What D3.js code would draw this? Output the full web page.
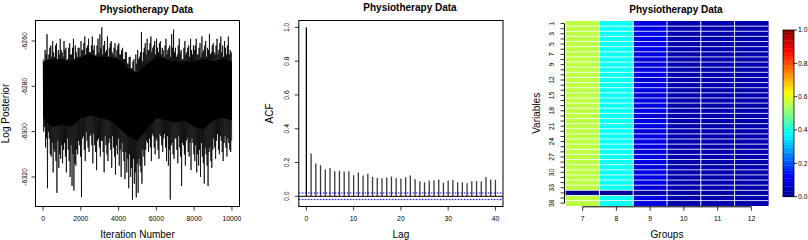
<!DOCTYPE html>
<html><head><meta charset="utf-8">
<script src="https://cdn.jsdelivr.net/npm/d3@7"></script>
<style>
body{margin:0;background:#fff}
svg{display:block}
text{font-family:"Liberation Sans",Arial,Helvetica,sans-serif;fill:#000}
</style>
</head><body>
<svg id="c" width="808" height="240"></svg>
<script>
// ---------------- DATA ----------------
const chartTitle = "Physiotherapy Data";

// Trace plot (log posterior): extremes read per 100 iterations
const traceBinSize = 100;
const traceSpikeTop = [
 -6268,-6264,-6257,-6266,-6262,-6260,-6267,-6261,-6264,-6259,
 -6265,-6260,-6263,-6268,-6261,-6266,-6259,-6262,-6267,-6263,
 -6260,-6264,-6258,-6263,-6259,-6265,-6258,-6262,-6266,-6259,
 -6257,-6254,-6262,-6265,-6258,-6263,-6260,-6266,-6261,-6264,
 -6261,-6266,-6263,-6268,-6265,-6270,-6267,-6272,-6268,-6266,
 -6264,-6267,-6256,-6265,-6261,-6259,-6264,-6258,-6263,-6260,
 -6259,-6265,-6260,-6263,-6267,-6259,-6264,-6262,-6257,-6255,
 -6263,-6266,-6259,-6264,-6268,-6260,-6265,-6262,-6259,-6266,
 -6264,-6259,-6266,-6261,-6258,-6264,-6260,-6263,-6257,-6265,
 -6261,-6266,-6259,-6264,-6258,-6262,-6260,-6266,-6258,-6264
];
const traceSpikeBottom = [
 -6300,-6307,-6325,-6303,-6311,-6318,-6309,-6327,-6316,-6312,
 -6314,-6305,-6318,-6308,-6320,-6324,-6326,-6315,-6310,-6306,
 -6329,-6302,-6313,-6304,-6309,-6301,-6314,-6306,-6317,-6303,
 -6311,-6304,-6318,-6306,-6313,-6303,-6316,-6307,-6319,-6310,
 -6315,-6320,-6309,-6321,-6318,-6325,-6320,-6330,-6323,-6329,
 -6327,-6315,-6323,-6311,-6308,-6305,-6303,-6313,-6302,-6310,
 -6304,-6312,-6302,-6309,-6301,-6313,-6315,-6330,-6305,-6312,
 -6303,-6314,-6307,-6324,-6306,-6315,-6303,-6311,-6317,-6305,
 -6313,-6318,-6315,-6320,-6311,-6323,-6310,-6324,-6307,-6316,
 -6303,-6312,-6301,-6310,-6304,-6313,-6302,-6311,-6305,-6309
];
// secondary (smaller) excursions in each 100-iteration bin
const traceSubTop = [
 -6270,-6266,-6268,-6263,-6267,-6265,-6262,-6268,-6266,-6264,
 -6267,-6264,-6269,-6263,-6266,-6263,-6268,-6265,-6263,-6267,
 -6264,-6261,-6266,-6262,-6265,-6262,-6264,-6267,-6262,-6265,
 -6263,-6266,-6260,-6264,-6267,-6261,-6265,-6263,-6267,-6262,
 -6266,-6264,-6268,-6265,-6270,-6267,-6272,-6269,-6274,-6270,
 -6268,-6265,-6269,-6263,-6266,-6264,-6261,-6265,-6262,-6266,
 -6263,-6261,-6266,-6264,-6262,-6266,-6263,-6267,-6263,-6265,
 -6267,-6262,-6265,-6268,-6263,-6266,-6263,-6267,-6264,-6262,
 -6262,-6266,-6263,-6267,-6265,-6262,-6267,-6264,-6266,-6262,
 -6265,-6262,-6266,-6261,-6265,-6267,-6263,-6262,-6266,-6265
];
const traceSubBottom = [
 -6298,-6303,-6300,-6310,-6305,-6308,-6313,-6304,-6310,-6306,
 -6308,-6311,-6303,-6313,-6306,-6310,-6314,-6308,-6304,-6311,
 -6303,-6308,-6300,-6307,-6302,-6306,-6301,-6309,-6304,-6307,
 -6304,-6309,-6302,-6310,-6305,-6308,-6302,-6311,-6306,-6303,
 -6308,-6305,-6313,-6309,-6312,-6310,-6316,-6312,-6318,-6314,
 -6312,-6318,-6308,-6315,-6304,-6309,-6307,-6301,-6307,-6303,
 -6308,-6301,-6306,-6303,-6307,-6302,-6308,-6306,-6310,-6303,
 -6308,-6302,-6311,-6305,-6310,-6304,-6309,-6305,-6303,-6310,
 -6306,-6310,-6308,-6305,-6314,-6307,-6315,-6309,-6313,-6308,
 -6307,-6304,-6308,-6302,-6309,-6305,-6307,-6303,-6308,-6304
];
// dense core of the trace, every 500 iterations
const coreIter   = [0,500,1000,1500,2000,2500,3000,3500,4000,4500,5000,5500,6000,6500,7000,7500,8000,8500,9000,9500,10000];
const coreTop    = [-6269,-6268,-6268,-6269,-6267,-6266,-6267,-6267,-6268,-6272,-6274,-6270,-6267,-6268,-6269,-6269,-6269,-6268,-6269,-6268,-6269];
const coreBottom = [-6294,-6298,-6297,-6298,-6294,-6293,-6294,-6295,-6298,-6302,-6304,-6299,-6294,-6295,-6296,-6295,-6298,-6299,-6295,-6294,-6295];
const traceXTicks = [0,2000,4000,6000,8000,10000];
const traceYTicks = [-6260,-6280,-6300,-6320];
const traceIterMax = 10000;

// ACF
const acfValues = [1.0,0.253,0.194,0.184,0.158,0.168,0.149,0.151,0.145,0.149,
 0.125,0.141,0.123,0.133,0.115,0.109,0.107,0.111,0.117,0.107,
 0.105,0.113,0.123,0.101,0.089,0.083,0.093,0.095,0.099,0.081,
 0.093,0.097,0.083,0.083,0.077,0.089,0.091,0.087,0.114,0.099,0.097];
const acfCI = 0.0196;
const acfXTicks = [0,10,20,30,40];
const acfYTicks = [0,0.2,0.4,0.6,0.8,1.0];

// Heatmap: posterior probabilities, groups 7..12 (columns) x variables 1..36 (rows)
const heatGroups = [7,8,9,10,11,12];
const heatVariables = [1,2,3,4,5,6,7,8,9,10,11,12,13,14,15,16,17,18,19,20,21,22,23,24,25,26,27,28,29,30,31,32,33,34,35,36];
const heatG7  = [0.56,0.56,0.56,0.56,0.56,0.56,0.56,0.56,0.56,0.56,0.56,0.56,0.56,0.56,0.56,0.56,0.56,0.56,0.56,0.56,0.56,0.56,0.56,0.56,0.56,0.56,0.56,0.56,0.56,0.56,0.56,0.56,0.56,0.00,0.56,0.56];
const heatG8  = [0.385,0.385,0.385,0.385,0.385,0.385,0.385,0.385,0.385,0.385,0.385,0.385,0.385,0.385,0.385,0.385,0.385,0.385,0.385,0.385,0.385,0.385,0.385,0.385,0.385,0.385,0.385,0.385,0.385,0.385,0.385,0.385,0.385,0.01,0.385,0.385];
const heatG9  = [0.09,0.09,0.10,0.09,0.09,0.10,0.09,0.08,0.09,0.09,0.09,0.08,0.09,0.09,0.08,0.09,0.09,0.09,0.08,0.09,0.09,0.08,0.09,0.09,0.09,0.08,0.09,0.09,0.08,0.09,0.09,0.09,0.08,0.02,0.09,0.09];
const heatG10 = [0.035,0.035,0.035,0.035,0.035,0.035,0.035,0.035,0.035,0.035,0.035,0.035,0.035,0.035,0.035,0.035,0.035,0.035,0.035,0.035,0.035,0.035,0.035,0.035,0.035,0.035,0.035,0.035,0.035,0.035,0.035,0.035,0.035,0.02,0.035,0.035];
const heatG11 = [0.035,0.035,0.035,0.035,0.035,0.035,0.035,0.035,0.035,0.035,0.035,0.035,0.035,0.035,0.035,0.035,0.035,0.035,0.035,0.035,0.035,0.035,0.035,0.035,0.035,0.035,0.035,0.035,0.035,0.035,0.035,0.035,0.035,0.02,0.035,0.035];
const heatG12 = [0.035,0.035,0.035,0.035,0.035,0.035,0.035,0.035,0.035,0.035,0.035,0.035,0.035,0.035,0.035,0.035,0.035,0.035,0.035,0.035,0.035,0.035,0.035,0.035,0.035,0.035,0.035,0.035,0.035,0.035,0.035,0.035,0.035,0.02,0.035,0.035];
const heatYTickLabels = [1,3,5,7,9,12,15,18,21,24,27,30,33,36];
const colorbarTicks = [0,0.2,0.4,0.6,0.8,1.0];

// ---------------- DRAW ----------------
const svg = d3.select("#c");
const FONT_TICK = 6.8, FONT_LAB = 10;
const fmt1 = d3.format(".1f");

function boxedPanel(g, L, R, T, B) {
  g.append("rect").attr("x", L).attr("y", T).attr("width", R - L).attr("height", B - T)
   .attr("fill", "none").attr("stroke", "#000").attr("stroke-width", 1);
}
function xTicks(g, scale, vals, yAxis, fmt) {
  vals.forEach(v => {
    const x = scale(v);
    g.append("line").attr("x1", x).attr("x2", x).attr("y1", yAxis).attr("y2", yAxis + 4).attr("stroke", "#000").attr("stroke-width", 0.8);
    g.append("text").attr("x", x).attr("y", 220.6).attr("text-anchor", "middle").attr("font-size", FONT_TICK).text(fmt(v));
  });
}
function yTicks(g, scale, vals, xAxis, labX, fmt) {
  vals.forEach(v => {
    const y = scale(v);
    g.append("line").attr("x1", xAxis - 4).attr("x2", xAxis).attr("y1", y).attr("y2", y).attr("stroke", "#000").attr("stroke-width", 0.8);
    g.append("text").attr("transform", `translate(${labX},${y}) rotate(-90)`).attr("text-anchor", "middle").attr("font-size", FONT_TICK).text(fmt(v));
  });
}
function titles(g, cx, ty, xlab, xlabCx, ylab, ylabX, ylabCy) {
  g.append("text").attr("x", cx).attr("y", ty).attr("text-anchor", "middle").attr("font-size", 10).attr("font-weight", "bold").text(chartTitle);
  g.append("text").attr("x", xlabCx).attr("y", 237.6).attr("text-anchor", "middle").attr("font-size", FONT_LAB).text(xlab);
  g.append("text").attr("transform", `translate(${ylabX},${ylabCy}) rotate(-90)`).attr("text-anchor", "middle").attr("font-size", FONT_LAB).text(ylab);
}

// ---- Panel 1 : trace ----
{
  const g = svg.append("g");
  const L = 35.5, R = 239.5, T = 20.5, B = 206.5;
  const allVals = traceSpikeTop.concat(traceSpikeBottom);
  const ext = d3.extent(allVals), pad = (ext[1] - ext[0]) * 0.04;
  const x = d3.scaleLinear().domain([1 - (traceIterMax - 1) * 0.04, traceIterMax + (traceIterMax - 1) * 0.04]).range([L, R]);
  const y = d3.scaleLinear().domain([ext[0] - pad, ext[1] + pad]).range([B, T]);
  const core = coreIter.map((it, i) => ({it, top: coreTop[i], bot: coreBottom[i]}));
  g.append("path").datum(core)
   .attr("d", d3.area().x(d => x(d.it)).y0(d => y(d.bot)).y1(d => y(d.top)))
   .attr("fill", "#000");
  const pts = [];
  traceSpikeTop.forEach((v, i) => {
    const b = i * traceBinSize;
    pts.push([b + 10, v]);
    pts.push([b + 35, traceSpikeBottom[i]]);
    pts.push([b + 60, traceSubTop[i]]);
    pts.push([b + 85, traceSubBottom[i]]);
  });
  g.append("path").datum(pts)
   .attr("d", d3.line().x(d => x(d[0])).y(d => y(d[1])))
   .attr("fill", "none").attr("stroke", "#000").attr("stroke-width", 0.75);
  boxedPanel(g, L, R, T, B);
  xTicks(g, x, traceXTicks, B, d => String(d));
  yTicks(g, y, traceYTicks, L, 26.6, d => String(d));
  titles(g, 146.5, 12.7, "Iteration Number", (L + R) / 2, "Log Posterior", 9, (T + B) / 2);
}

// ---- Panel 2 : ACF ----
{
  const g = svg.append("g");
  const L = 298.8, R = 503, T = 20.5, B = 206.5;
  const n = acfValues.length - 1;
  const x = d3.scaleLinear().domain([-n * 0.04, n * 1.04]).range([L, R]);
  const lo = -acfCI, hi = d3.max(acfValues), pad = (hi - lo) * 0.04;
  const y = d3.scaleLinear().domain([lo - pad, hi + pad]).range([B, T]);
  g.selectAll(".bar").data(acfValues).enter().append("line")
   .attr("x1", (d, i) => x(i)).attr("x2", (d, i) => x(i))
   .attr("y1", y(0)).attr("y2", d => y(d))
   .attr("stroke", (d, i) => i === 0 ? "#000" : "#3a3a3a").attr("stroke-width", 1.3);
  g.append("line").attr("x1", L).attr("x2", R).attr("y1", y(0)).attr("y2", y(0)).attr("stroke", "#000").attr("stroke-width", 1);
  [acfCI, -acfCI].forEach(c => {
    g.append("line").attr("x1", L).attr("x2", R).attr("y1", y(c)).attr("y2", y(c))
     .attr("stroke", "#0000ff").attr("stroke-width", 1).attr("stroke-dasharray", "1.6,1.4");
  });
  boxedPanel(g, L, R, T, B);
  xTicks(g, x, acfXTicks, B, d => String(d));
  yTicks(g, y, acfYTicks, L, 289.4, d => fmt1(d));
  titles(g, 410, 10.6, "Lag", (L + R) / 2, "ACF", 273, (T + B) / 2);
}

// ---- Panel 3 : heatmap ----
{
  const g = svg.append("g");
  const L = 565.7, R = 768.3, T = 21, B = 205.7;
  const cols = [heatG7, heatG8, heatG9, heatG10, heatG11, heatG12];
  const jet = d3.scaleLinear()
    .domain([0, 0.125, 0.375, 0.625, 0.875, 1])
    .range(["#00008F", "#0000FF", "#00FFFF", "#FFFF00", "#FF0000", "#800000"])
    .interpolate(d3.interpolateRgb).clamp(true);
  const x = d3.scaleLinear().domain([heatGroups[0] - 0.5, heatGroups[heatGroups.length - 1] + 0.5]).range([L, R]);
  const y = d3.scaleLinear().domain([0.5, heatVariables.length + 0.5]).range([T, B]);
  const cells = [];
  cols.forEach((arr, ci) => arr.forEach((v, ri) => cells.push({g: heatGroups[ci], r: heatVariables[ri], v})));
  g.selectAll(".cell").data(cells).enter().append("rect")
   .attr("x", d => x(d.g - 0.5)).attr("y", d => y(d.r - 0.5))
   .attr("width", x(1) - x(0) + 0.3).attr("height", y(1) - y(0) + 0.3)
   .attr("fill", d => jet(d.v));
  // grid lines
  heatVariables.slice(0, -1).forEach(r => {
    g.append("line").attr("x1", L).attr("x2", R).attr("y1", y(r + 0.5)).attr("y2", y(r + 0.5))
     .attr("stroke", "#fff").attr("stroke-opacity", 0.8).attr("stroke-width", 1);
  });
  heatGroups.slice(0, -1).forEach(gr => {
    g.append("line").attr("x1", x(gr + 0.5)).attr("x2", x(gr + 0.5)).attr("y1", T).attr("y2", B)
     .attr("stroke", "#fff").attr("stroke-opacity", 0.85).attr("stroke-width", 1.1);
  });
  // y axis
  const ax = 564.5;
  g.append("line").attr("x1", ax).attr("x2", ax).attr("y1", y(1)).attr("y2", y(36)).attr("stroke", "#000").attr("stroke-width", 1);
  heatVariables.forEach(r => {
    g.append("line").attr("x1", ax - 4).attr("x2", ax).attr("y1", y(r)).attr("y2", y(r)).attr("stroke", "#000").attr("stroke-width", 0.8);
  });
  heatYTickLabels.forEach(r => {
    g.append("text").attr("transform", `translate(554.4,${y(r)}) rotate(-90)`).attr("text-anchor", "middle").attr("font-size", FONT_TICK).text(r);
  });
  // x axis
  const ay = 206.8;
  g.append("line").attr("x1", x(heatGroups[0])).attr("x2", x(heatGroups[heatGroups.length - 1])).attr("y1", ay).attr("y2", ay).attr("stroke", "#000").attr("stroke-width", 1);
  heatGroups.forEach(gr => {
    g.append("line").attr("x1", x(gr)).attr("x2", x(gr)).attr("y1", ay).attr("y2", ay + 4).attr("stroke", "#000").attr("stroke-width", 0.8);
    g.append("text").attr("x", x(gr)).attr("y", 220.6).attr("text-anchor", "middle").attr("font-size", FONT_TICK).text(gr);
  });
  titles(g, 676, 12.7, "Groups", (L + R) / 2, "Variables", 539.6, (T + B) / 2);

  // colorbar
  const cbL = 783, cbR = 794, cbT = 30, cbB = 196.7;
  const cy = d3.scaleLinear().domain([0, 1]).range([cbB, cbT]);
  const nCol = 64;
  const steps = d3.range(nCol);
  g.selectAll(".cb").data(steps).enter().append("rect")
   .attr("x", cbL).attr("width", cbR - cbL)
   .attr("y", i => cy((i + 1) / nCol)).attr("height", (cbB - cbT) / nCol + 0.3)
   .attr("fill", i => jet((i + 0.5) / nCol));
  g.append("rect").attr("x", cbL).attr("y", cbT).attr("width", cbR - cbL).attr("height", cbB - cbT)
   .attr("fill", "none").attr("stroke", "#000").attr("stroke-width", 0.8);
  colorbarTicks.forEach(v => {
    g.append("line").attr("x1", cbR).attr("x2", cbR + 3).attr("y1", cy(v)).attr("y2", cy(v)).attr("stroke", "#000").attr("stroke-width", 0.8);
    g.append("text").attr("x", 798).attr("y", cy(v) + 2.4).attr("font-size", FONT_TICK).text(fmt1(v));
  });
}
</script>
</body></html>
